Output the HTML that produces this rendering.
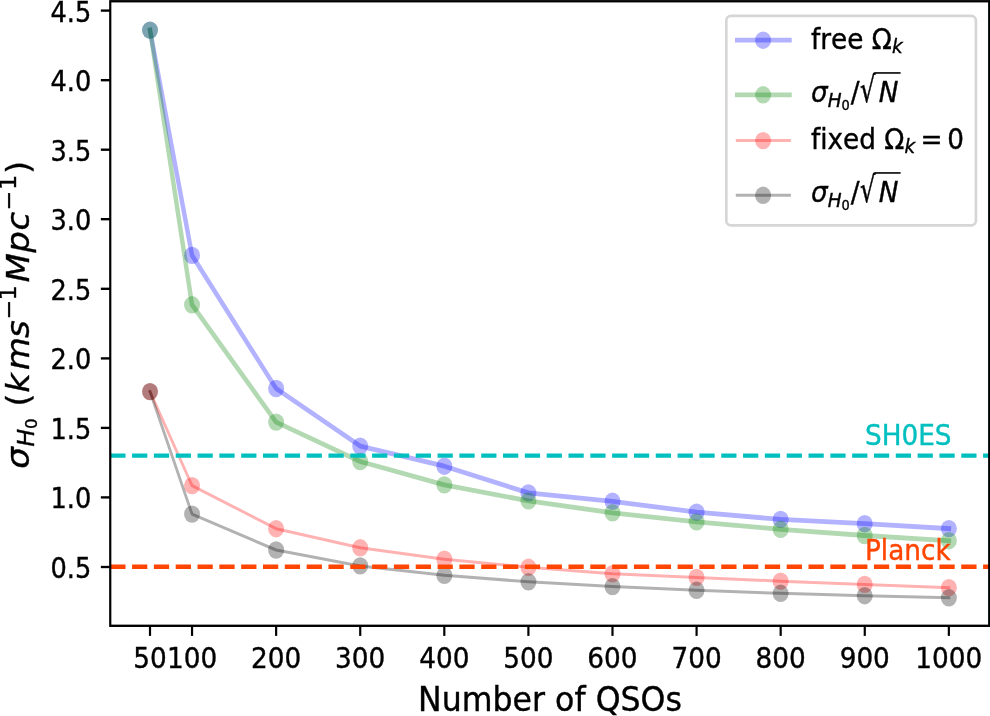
<!DOCTYPE html>
<html><head><meta charset="utf-8"><title>sigma H0 vs Number of QSOs</title>
<style>
html,body{margin:0;padding:0;background:#fff;}
body{width:990px;height:716px;overflow:hidden;}
svg{display:block;}
text{font-family:"DejaVu Sans","Liberation Sans",sans-serif;fill:#000;font-variant-ligatures:none;font-kerning:none;stroke:#000;stroke-width:0.4px;}
.it{font-style:italic;}
</style></head><body>
<svg width="990" height="716" viewBox="0 0 990 716">
<rect width="990" height="716" fill="#fff"/>
<g transform="scale(0.93,1)">
<polyline points="161.3,30.1 206.5,255.4 296.9,388.5 387.3,446.1 477.8,466.2 568.2,492.9 658.6,501.3 749.0,512.2 839.4,519.4 929.8,523.7 1020.3,528.6" fill="none" stroke="#0000ff" stroke-opacity="0.3" stroke-width="4.8" stroke-linejoin="round" stroke-linecap="square"/>
<ellipse cx="161.3" cy="30.1" rx="8.60" ry="8.7" fill="#0000ff" fill-opacity="0.3"/>
<ellipse cx="206.5" cy="255.4" rx="8.60" ry="8.7" fill="#0000ff" fill-opacity="0.3"/>
<ellipse cx="296.9" cy="388.5" rx="8.60" ry="8.7" fill="#0000ff" fill-opacity="0.3"/>
<ellipse cx="387.3" cy="446.1" rx="8.60" ry="8.7" fill="#0000ff" fill-opacity="0.3"/>
<ellipse cx="477.8" cy="466.2" rx="8.60" ry="8.7" fill="#0000ff" fill-opacity="0.3"/>
<ellipse cx="568.2" cy="492.9" rx="8.60" ry="8.7" fill="#0000ff" fill-opacity="0.3"/>
<ellipse cx="658.6" cy="501.3" rx="8.60" ry="8.7" fill="#0000ff" fill-opacity="0.3"/>
<ellipse cx="749.0" cy="512.2" rx="8.60" ry="8.7" fill="#0000ff" fill-opacity="0.3"/>
<ellipse cx="839.4" cy="519.4" rx="8.60" ry="8.7" fill="#0000ff" fill-opacity="0.3"/>
<ellipse cx="929.8" cy="523.7" rx="8.60" ry="8.7" fill="#0000ff" fill-opacity="0.3"/>
<ellipse cx="1020.3" cy="528.6" rx="8.60" ry="8.7" fill="#0000ff" fill-opacity="0.3"/>
<polyline points="161.3,30.1 206.5,304.8 296.9,422.1 387.3,461.5 477.8,484.9 568.2,500.9 658.6,512.8 749.0,521.9 839.4,529.3 929.8,535.5 1020.3,540.7" fill="none" stroke="#008000" stroke-opacity="0.3" stroke-width="4.8" stroke-linejoin="round" stroke-linecap="square"/>
<ellipse cx="161.3" cy="30.1" rx="8.60" ry="8.7" fill="#008000" fill-opacity="0.3"/>
<ellipse cx="206.5" cy="304.8" rx="8.60" ry="8.7" fill="#008000" fill-opacity="0.3"/>
<ellipse cx="296.9" cy="422.1" rx="8.60" ry="8.7" fill="#008000" fill-opacity="0.3"/>
<ellipse cx="387.3" cy="461.5" rx="8.60" ry="8.7" fill="#008000" fill-opacity="0.3"/>
<ellipse cx="477.8" cy="484.9" rx="8.60" ry="8.7" fill="#008000" fill-opacity="0.3"/>
<ellipse cx="568.2" cy="500.9" rx="8.60" ry="8.7" fill="#008000" fill-opacity="0.3"/>
<ellipse cx="658.6" cy="512.8" rx="8.60" ry="8.7" fill="#008000" fill-opacity="0.3"/>
<ellipse cx="749.0" cy="521.9" rx="8.60" ry="8.7" fill="#008000" fill-opacity="0.3"/>
<ellipse cx="839.4" cy="529.3" rx="8.60" ry="8.7" fill="#008000" fill-opacity="0.3"/>
<ellipse cx="929.8" cy="535.5" rx="8.60" ry="8.7" fill="#008000" fill-opacity="0.3"/>
<ellipse cx="1020.3" cy="540.7" rx="8.60" ry="8.7" fill="#008000" fill-opacity="0.3"/>
<polyline points="161.3,391.6 206.5,485.6 296.9,528.7 387.3,547.8 477.8,559.2 568.2,567.3 658.6,573.8 749.0,577.4 839.4,581.2 929.8,584.4 1020.3,587.6" fill="none" stroke="#ff0000" stroke-opacity="0.3" stroke-width="3.0" stroke-linejoin="round" stroke-linecap="square"/>
<ellipse cx="161.3" cy="391.6" rx="8.60" ry="8.7" fill="#ff0000" fill-opacity="0.3"/>
<ellipse cx="206.5" cy="485.6" rx="8.60" ry="8.7" fill="#ff0000" fill-opacity="0.3"/>
<ellipse cx="296.9" cy="528.7" rx="8.60" ry="8.7" fill="#ff0000" fill-opacity="0.3"/>
<ellipse cx="387.3" cy="547.8" rx="8.60" ry="8.7" fill="#ff0000" fill-opacity="0.3"/>
<ellipse cx="477.8" cy="559.2" rx="8.60" ry="8.7" fill="#ff0000" fill-opacity="0.3"/>
<ellipse cx="568.2" cy="567.3" rx="8.60" ry="8.7" fill="#ff0000" fill-opacity="0.3"/>
<ellipse cx="658.6" cy="573.8" rx="8.60" ry="8.7" fill="#ff0000" fill-opacity="0.3"/>
<ellipse cx="749.0" cy="577.4" rx="8.60" ry="8.7" fill="#ff0000" fill-opacity="0.3"/>
<ellipse cx="839.4" cy="581.2" rx="8.60" ry="8.7" fill="#ff0000" fill-opacity="0.3"/>
<ellipse cx="929.8" cy="584.4" rx="8.60" ry="8.7" fill="#ff0000" fill-opacity="0.3"/>
<ellipse cx="1020.3" cy="587.6" rx="8.60" ry="8.7" fill="#ff0000" fill-opacity="0.3"/>
<polyline points="161.3,391.6 206.5,514.1 296.9,550.0 387.3,565.9 477.8,575.3 568.2,581.8 658.6,586.6 749.0,590.3 839.4,593.3 929.8,595.7 1020.3,597.8" fill="none" stroke="#000000" stroke-opacity="0.3" stroke-width="3.0" stroke-linejoin="round" stroke-linecap="square"/>
<ellipse cx="161.3" cy="391.6" rx="8.60" ry="8.7" fill="#000000" fill-opacity="0.3"/>
<ellipse cx="206.5" cy="514.1" rx="8.60" ry="8.7" fill="#000000" fill-opacity="0.3"/>
<ellipse cx="296.9" cy="550.0" rx="8.60" ry="8.7" fill="#000000" fill-opacity="0.3"/>
<ellipse cx="387.3" cy="565.9" rx="8.60" ry="8.7" fill="#000000" fill-opacity="0.3"/>
<ellipse cx="477.8" cy="575.3" rx="8.60" ry="8.7" fill="#000000" fill-opacity="0.3"/>
<ellipse cx="568.2" cy="581.8" rx="8.60" ry="8.7" fill="#000000" fill-opacity="0.3"/>
<ellipse cx="658.6" cy="586.6" rx="8.60" ry="8.7" fill="#000000" fill-opacity="0.3"/>
<ellipse cx="749.0" cy="590.3" rx="8.60" ry="8.7" fill="#000000" fill-opacity="0.3"/>
<ellipse cx="839.4" cy="593.3" rx="8.60" ry="8.7" fill="#000000" fill-opacity="0.3"/>
<ellipse cx="929.8" cy="595.7" rx="8.60" ry="8.7" fill="#000000" fill-opacity="0.3"/>
<ellipse cx="1020.3" cy="597.8" rx="8.60" ry="8.7" fill="#000000" fill-opacity="0.3"/>
<line x1="118.55" x2="1063.66" y1="455.6" y2="455.6" stroke="#00bfbf" stroke-width="4.4" stroke-dasharray="16.398 7.065"/>
<line x1="118.55" x2="1063.66" y1="566.8" y2="566.8" stroke="#ff4500" stroke-width="4.4" stroke-dasharray="16.398 7.065"/>
<rect x="118.55" y="1.25" width="945.11" height="624.55" fill="none" stroke="#000" stroke-width="2.35"/>
<line x1="161.29" x2="161.29" y1="625.8" y2="635.9" stroke="#000" stroke-width="2.35"/><text x="161.29" y="667.6" font-size="28.3" text-anchor="middle">50</text>
<line x1="206.50" x2="206.50" y1="625.8" y2="635.9" stroke="#000" stroke-width="2.35"/><text x="206.50" y="667.6" font-size="28.3" text-anchor="middle">100</text>
<line x1="296.92" x2="296.92" y1="625.8" y2="635.9" stroke="#000" stroke-width="2.35"/><text x="296.92" y="667.6" font-size="28.3" text-anchor="middle">200</text>
<line x1="387.34" x2="387.34" y1="625.8" y2="635.9" stroke="#000" stroke-width="2.35"/><text x="387.34" y="667.6" font-size="28.3" text-anchor="middle">300</text>
<line x1="477.75" x2="477.75" y1="625.8" y2="635.9" stroke="#000" stroke-width="2.35"/><text x="477.75" y="667.6" font-size="28.3" text-anchor="middle">400</text>
<line x1="568.17" x2="568.17" y1="625.8" y2="635.9" stroke="#000" stroke-width="2.35"/><text x="568.17" y="667.6" font-size="28.3" text-anchor="middle">500</text>
<line x1="658.59" x2="658.59" y1="625.8" y2="635.9" stroke="#000" stroke-width="2.35"/><text x="658.59" y="667.6" font-size="28.3" text-anchor="middle">600</text>
<line x1="749.01" x2="749.01" y1="625.8" y2="635.9" stroke="#000" stroke-width="2.35"/><text x="749.01" y="667.6" font-size="28.3" text-anchor="middle">700</text>
<line x1="839.43" x2="839.43" y1="625.8" y2="635.9" stroke="#000" stroke-width="2.35"/><text x="839.43" y="667.6" font-size="28.3" text-anchor="middle">800</text>
<line x1="929.85" x2="929.85" y1="625.8" y2="635.9" stroke="#000" stroke-width="2.35"/><text x="929.85" y="667.6" font-size="28.3" text-anchor="middle">900</text>
<line x1="1020.26" x2="1020.26" y1="625.8" y2="635.9" stroke="#000" stroke-width="2.35"/><text x="1020.26" y="667.6" font-size="28.3" text-anchor="middle">1000</text>
<line x1="108.45" x2="118.55" y1="567.0" y2="567.0" stroke="#000" stroke-width="2.35"/><text transform="translate(98.17,578.0) scale(0.975,1)" font-size="28.3" text-anchor="end">0.5</text>
<line x1="108.45" x2="118.55" y1="497.4" y2="497.4" stroke="#000" stroke-width="2.35"/><text transform="translate(98.17,508.4) scale(0.975,1)" font-size="28.3" text-anchor="end">1.0</text>
<line x1="108.45" x2="118.55" y1="427.9" y2="427.9" stroke="#000" stroke-width="2.35"/><text transform="translate(98.17,438.9) scale(0.975,1)" font-size="28.3" text-anchor="end">1.5</text>
<line x1="108.45" x2="118.55" y1="358.4" y2="358.4" stroke="#000" stroke-width="2.35"/><text transform="translate(98.17,369.4) scale(0.975,1)" font-size="28.3" text-anchor="end">2.0</text>
<line x1="108.45" x2="118.55" y1="288.8" y2="288.8" stroke="#000" stroke-width="2.35"/><text transform="translate(98.17,299.8) scale(0.975,1)" font-size="28.3" text-anchor="end">2.5</text>
<line x1="108.45" x2="118.55" y1="219.2" y2="219.2" stroke="#000" stroke-width="2.35"/><text transform="translate(98.17,230.2) scale(0.975,1)" font-size="28.3" text-anchor="end">3.0</text>
<line x1="108.45" x2="118.55" y1="149.7" y2="149.7" stroke="#000" stroke-width="2.35"/><text transform="translate(98.17,160.7) scale(0.975,1)" font-size="28.3" text-anchor="end">3.5</text>
<line x1="108.45" x2="118.55" y1="80.2" y2="80.2" stroke="#000" stroke-width="2.35"/><text transform="translate(98.17,91.2) scale(0.975,1)" font-size="28.3" text-anchor="end">4.0</text>
<line x1="108.45" x2="118.55" y1="10.6" y2="10.6" stroke="#000" stroke-width="2.35"/><text transform="translate(98.17,21.6) scale(0.975,1)" font-size="28.3" text-anchor="end">4.5</text>
<text x="591.40" y="711.3" font-size="34" text-anchor="middle">Number of QSOs</text>
<g transform="translate(31.40,313.5) rotate(-90)" font-size="34"><text x="-155.3" y="0" class="it">σ</text><text x="-133.3" y="5.5" class="it" font-size="23.8">H</text><text x="-115.4" y="8.7" font-size="16.7">0</text><text x="-93.2" y="0">(</text><text x="-79.2 -56.8 -24.4" y="0" class="it">kms</text><text x="-5.9 13.1" y="-14.4" font-size="23.8">−1</text><text x="30.9 60.8 83.1" y="0" class="it">Mpc</text><text x="103 123.6" y="-14.4" font-size="23.8">−1</text><text x="139.6" y="0">)</text></g>
<text x="930.11" y="444.6" font-size="28.3" style="fill:#00bfbf;stroke:#00bfbf">SH0ES</text>
<text x="930.11" y="560.2" font-size="28.3" style="fill:#ff4500;stroke:#ff4500">Planck</text>
<rect x="780.97" y="15.9" width="268.39" height="209.5" rx="5" ry="4.6" fill="#fff" fill-opacity="0.8" stroke="#cccccc" stroke-opacity="0.8" stroke-width="2.9"/>
<line x1="792.69" x2="848.92" y1="40.2" y2="40.2" stroke="#0000ff" stroke-opacity="0.3" stroke-width="4.8" stroke-linecap="square"/><ellipse cx="820.54" cy="40.2" rx="8.60" ry="8.7" fill="#0000ff" fill-opacity="0.3"/>
<line x1="792.69" x2="848.92" y1="94.8" y2="94.8" stroke="#008000" stroke-opacity="0.3" stroke-width="4.8" stroke-linecap="square"/><ellipse cx="820.54" cy="94.8" rx="8.60" ry="8.7" fill="#008000" fill-opacity="0.3"/>
<line x1="792.69" x2="848.92" y1="140.6" y2="140.6" stroke="#ff0000" stroke-opacity="0.3" stroke-width="3.0" stroke-linecap="square"/><ellipse cx="820.54" cy="140.6" rx="8.60" ry="8.7" fill="#ff0000" fill-opacity="0.3"/>
<line x1="792.69" x2="848.92" y1="195.3" y2="195.3" stroke="#000000" stroke-opacity="0.3" stroke-width="3.0" stroke-linecap="square"/><ellipse cx="820.54" cy="195.3" rx="8.60" ry="8.7" fill="#000000" fill-opacity="0.3"/>
<text x="872.04" y="49.3" font-size="28.3">free Ω<tspan class="it" font-size="19.8" dy="3.8">k</tspan></text>
<text x="872.04" y="102.4" font-size="28.3"><tspan class="it">σ</tspan><tspan class="it" font-size="19.8" dy="4.4">H</tspan><tspan font-size="13.9" dy="3.3">0</tspan></text><text x="914.84" y="102.4" font-size="28.3">/</text><text transform="translate(924.60,101.80) scale(0.92,1.27)" font-size="28.3">√</text><line x1="940.11" x2="968.39" y1="72.95" y2="72.95" stroke="#000" stroke-width="1.6"/><text x="944.89" y="102.4" font-size="28.3" class="it">N</text>
<text x="872.04" y="149.4" font-size="28.3">fixed Ω<tspan class="it" font-size="19.8" dy="3.6">k</tspan></text><text x="989.70" y="149.4" font-size="28.3">=</text><text x="1018.50" y="149.4" font-size="28.3">0</text>
<text x="872.04" y="202.4" font-size="28.3"><tspan class="it">σ</tspan><tspan class="it" font-size="19.8" dy="4.4">H</tspan><tspan font-size="13.9" dy="3.3">0</tspan></text><text x="914.84" y="202.4" font-size="28.3">/</text><text transform="translate(924.60,201.80) scale(0.92,1.27)" font-size="28.3">√</text><line x1="940.11" x2="968.39" y1="172.95" y2="172.95" stroke="#000" stroke-width="1.6"/><text x="944.89" y="202.4" font-size="28.3" class="it">N</text>
</g></svg></body></html>
